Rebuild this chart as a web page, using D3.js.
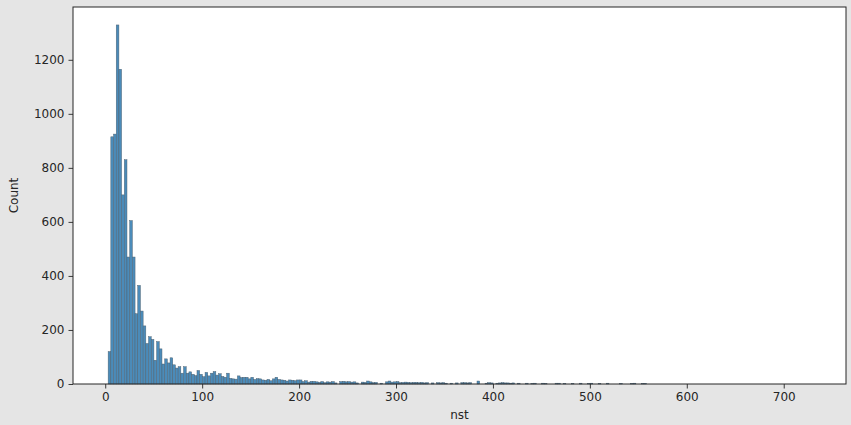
<!DOCTYPE html>
<html>
<head>
<meta charset="utf-8">
<script src="https://cdn.jsdelivr.net/npm/d3@7"></script>
<style>
  body { margin: 0; background: #e5e5e5; }
  svg { display: block; font-family: "DejaVu Sans", sans-serif; }
</style>
</head>
<body>
<div id="chart"></div>
<script>
// ---- data ----
// histogram of "nst": 261 equal bins from 3 to 728
var dataMin = 3;
var dataMax = 728;
var binCount = 261;

// counts for the first 77 bins (the dense part)
var headCounts = [120, 915, 925, 1329, 1165, 700, 830, 470, 605, 470,
  260, 365, 270, 215, 150, 175, 165, 88, 157, 130,
  74, 93, 78, 97, 71, 59, 64, 40, 64, 40,
  45, 36, 31, 50, 36, 27, 43, 30, 40, 46,
  33, 38, 28, 25, 40, 21, 19, 18, 30, 24,
  25, 25, 19, 25, 17, 20, 19, 15, 14, 17,
  12, 19, 25, 17, 15, 14, 11, 15, 14, 12,
  15, 15, 9, 12, 7, 10, 10];

// sparse tail: bin index and count
var tailBins = [77, 78, 79, 80, 81, 82, 83, 84, 86, 87, 88, 89, 90, 91, 92,
  94, 95, 96, 97, 98, 99, 101, 103, 104, 105, 106, 107, 108, 109, 110,
  111, 112, 113, 114, 115, 116, 117, 118, 120, 122, 123, 124, 125, 127,
  129, 131, 132, 133, 134, 137, 140, 141, 142, 144, 145, 146, 147, 148,
  149, 150, 152, 155, 157, 158, 161, 162, 166, 167, 169, 172, 175, 178,
  179, 182, 185, 190, 194, 195, 198, 199];
var tailCounts = [8, 6, 9, 5, 8, 7, 9, 4, 9, 10, 8, 9, 7, 8, 4,
  7, 6, 11, 8, 5, 6, 3, 8, 11, 7, 8, 9, 5, 6, 7,
  6, 5, 6, 6, 5, 6, 4, 5, 4, 5, 4, 5, 3, 3,
  4, 5, 5, 4, 5, 11, 3, 5, 4, 3, 4, 5, 4, 4,
  3, 4, 3, 3, 2, 3, 3, 2, 3, 3, 2, 2, 3, 2,
  3, 2, 3, 2, 2, 3, 2, 2];

var xTicks = [0, 100, 200, 300, 400, 500, 600, 700];
var yTicks = [0, 200, 400, 600, 800, 1000, 1200];

// build the full bin table
var binWidth = (dataMax - dataMin) / binCount;
var bins = d3.range(binCount).map(function(i) {
  return { x0: dataMin + i * binWidth, x1: dataMin + (i + 1) * binWidth, count: 0 };
});
headCounts.forEach(function(c, i) { bins[i].count = c; });
tailBins.forEach(function(b, i) { bins[b].count = tailCounts[i]; });

// ---- layout ----
var width = 851, height = 425;
var axLeft = 73, axRight = 846, axTop = 7, axBottom = 384;

var svg = d3.select("#chart").append("svg")
  .attr("width", width)
  .attr("height", height);

// axes background
svg.append("rect")
  .attr("x", axLeft).attr("y", axTop)
  .attr("width", axRight - axLeft).attr("height", axBottom - axTop)
  .attr("fill", "#ffffff");

// matplotlib style 5% margins on x, sticky zero on y
var span = dataMax - dataMin;
var x = d3.scaleLinear()
  .domain([dataMin - span * 0.05, dataMax + span * 0.05])
  .range([axLeft, axRight]);
var yMax = d3.max(bins, function(d) { return d.count; }) * 1.05;
var y = d3.scaleLinear()
  .domain([0, yMax])
  .range([axBottom, axTop]);

// bars
svg.append("g")
  .attr("opacity", 0.8)
  .selectAll("rect")
  .data(bins)
  .enter()
  .append("rect")
  .attr("x", function(d) { return x(d.x0); })
  .attr("y", function(d) { return y(d.count); })
  .attr("width", function(d) { return x(d.x1) - x(d.x0); })
  .attr("height", function(d) { return y(0) - y(d.count); })
  .attr("fill", "#1f6fa8")
  .attr("stroke", "#22384a")
  .attr("stroke-width", 0.45);

// axes
var xAxis = d3.axisBottom(x).tickValues(xTicks).tickFormat(d3.format("d"))
  .tickSize(4.5).tickPadding(4).tickSizeOuter(0);
var yAxis = d3.axisLeft(y).tickValues(yTicks).tickFormat(d3.format("d"))
  .tickSize(4.5).tickPadding(4).tickSizeOuter(0);

var gx = svg.append("g")
  .attr("transform", "translate(0," + axBottom + ")")
  .call(xAxis);
var gy = svg.append("g")
  .attr("transform", "translate(" + axLeft + ",0)")
  .call(yAxis);

[gx, gy].forEach(function(g) {
  g.select(".domain").remove();
  g.selectAll(".tick line").attr("stroke", "#262626").attr("stroke-width", 0.9);
  g.selectAll(".tick text").attr("fill", "#262626").attr("font-size", 12)
    .attr("font-family", "DejaVu Sans, sans-serif");
});

// frame (spines)
svg.append("rect")
  .attr("x", axLeft).attr("y", axTop)
  .attr("width", axRight - axLeft).attr("height", axBottom - axTop)
  .attr("fill", "none")
  .attr("stroke", "#262626")
  .attr("stroke-width", 1);

// axis labels
svg.append("text")
  .attr("x", (axLeft + axRight) / 2)
  .attr("y", 419)
  .attr("text-anchor", "middle")
  .attr("font-size", 12)
  .attr("fill", "#262626")
  .text("nst");

svg.append("text")
  .attr("transform", "translate(18," + ((axTop + axBottom) / 2) + ")rotate(-90)")
  .attr("text-anchor", "middle")
  .attr("font-size", 12)
  .attr("fill", "#262626")
  .text("Count");
</script>
</body>
</html>
